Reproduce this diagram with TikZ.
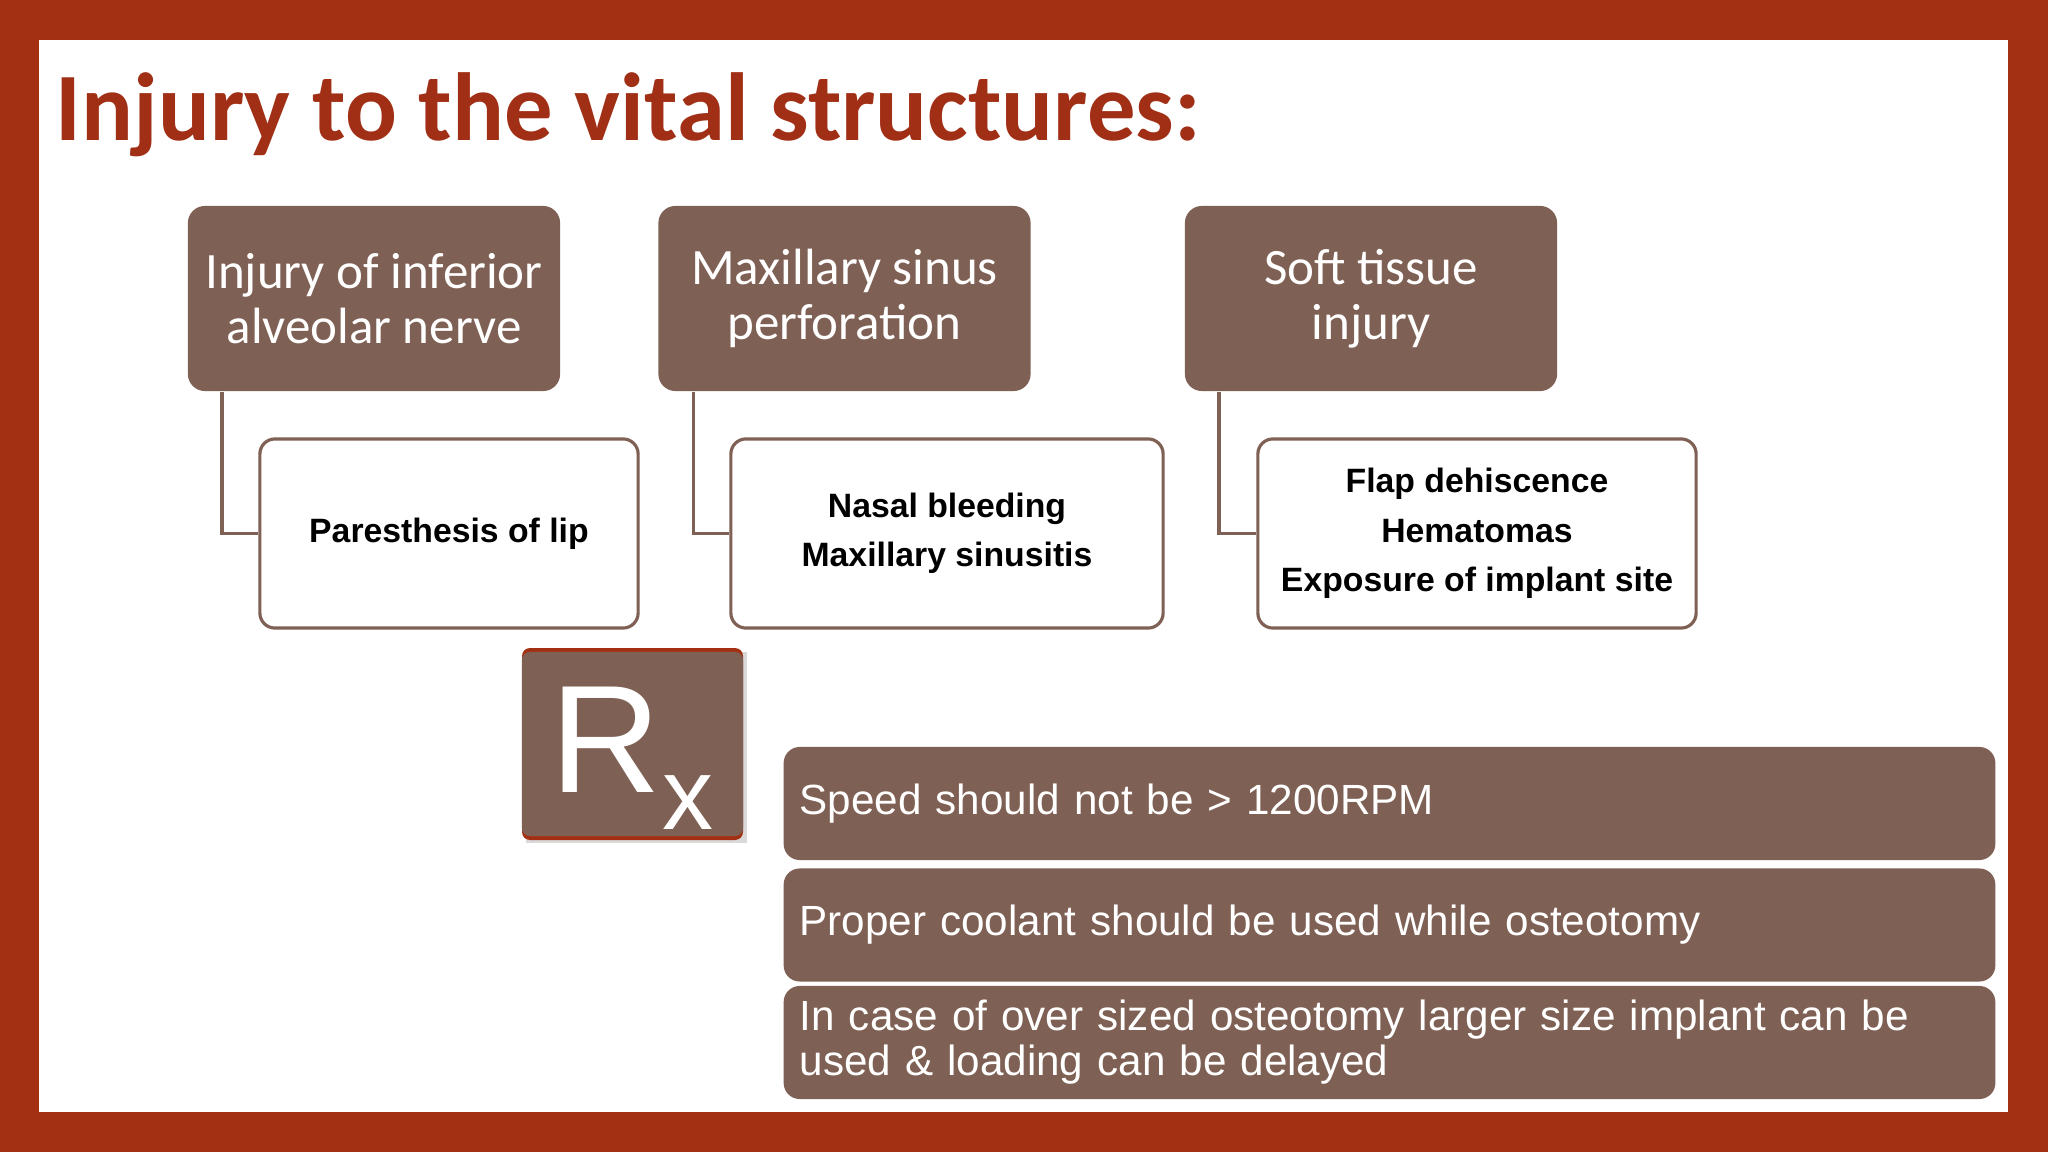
\documentclass[tikz,border=0pt]{standalone}
\usepackage{fontspec}
\setmainfont{Liberation Sans}
\newfontfamily\carlito{Carlito}
\usepackage{tikz}
\usetikzlibrary{positioning, calc}
\definecolor{framered}{RGB}{164, 48, 20}
\definecolor{titlered}{RGB}{160, 47, 22}
\definecolor{boxbrown}{RGB}{127, 96, 84}

\begin{document}
\begin{tikzpicture}[x={(0.01cm,0cm)}, y={(0cm,-0.01cm)},
    topbox/.style={fill=boxbrown, rounded corners=0.17cm, minimum width=3.72cm, minimum height=1.85cm, inner sep=0pt, text=white, align=center, font=\carlito\fontsize{14.5}{15.6}\selectfont},
    subbox/.style={draw=boxbrown, line width=0.9pt, fill=white, rounded corners=0.15cm, minimum height=1.89cm, inner sep=0pt, align=center, font=\bfseries\fontsize{9.6}{14}\selectfont},
    tipbox/.style={fill=boxbrown, rounded corners=0.16cm, text width=11.79cm, minimum height=1.13cm, inner xsep=0.16cm, inner ysep=0pt, text=white, align=left, font=\fontsize{12}{12.8}\selectfont},
    link/.style={draw=boxbrown, line width=1pt}]
    \useasboundingbox (0,0) rectangle (2048,1152);
    \fill[framered] (0,0) rectangle (2048,1152);
    \fill[white] (39,40) rectangle (2008,1112);
    \node[anchor=base west, inner sep=0pt, text=titlered, font=\carlito\bfseries\fontsize{27.5}{33}\selectfont] (title) at (55,141) {Injury to the vital structures:};

    \node[topbox] (nerve) at (374,298.5) {Injury of inferior\\alveolar nerve};
    \node[topbox] (sinus) at (844.5,298.5) {Maxillary sinus\\perforation};
    \node[topbox] (tissue) at (1371,298.5) {Soft tissue\\injury};
    \node[subbox, minimum width=3.78cm] (lip) at (449,533.5) {Paresthesis of lip};
    \node[subbox, minimum width=4.32cm] (bleed) at (947,533.5) {Nasal bleeding\\Maxillary sinusitis};
    \node[subbox, minimum width=4.38cm] (flap) at (1477,533.5) {Flap dehiscence\\Hematomas\\Exposure of implant site};
    \draw[link] ($(nerve.south west)+(35,0)$) |- (lip.west);
    \draw[link] ($(sinus.south west)+(36,0)$) |- (bleed.west);
    \draw[link] ($(tissue.south west)+(35,0)$) |- (flap.west);

    \fill[gray!30] (526,652) rectangle (747,843);
    \fill[framered, rounded corners=0.08cm] (522,648) rectangle (743,840);
    \node[fill=boxbrown, rounded corners=0.08cm, minimum width=2.21cm, minimum height=1.84cm, inner sep=0pt] (rx) at (632.5,744) {};
    \node[anchor=base west, inner sep=0pt, text=white, font=\fontsize{43.6}{44}\selectfont] (rxr) at (550,792) {R};
    \node[anchor=base west, inner sep=0pt, text=white, font=\fontsize{29}{30}\selectfont] (rxx) at (662,829) {x};

    \node[tipbox] (speed) at (1389.5,803.5) {Speed should not be > 1200RPM};
    \node[tipbox] (coolant) at (1389.5,925) {Proper coolant should be used while osteotomy};
    \node[tipbox] (oversize) at (1389.5,1042.5) {In case of over sized osteotomy larger size implant can be\\used \& loading can be delayed};
\end{tikzpicture}
\end{document}
